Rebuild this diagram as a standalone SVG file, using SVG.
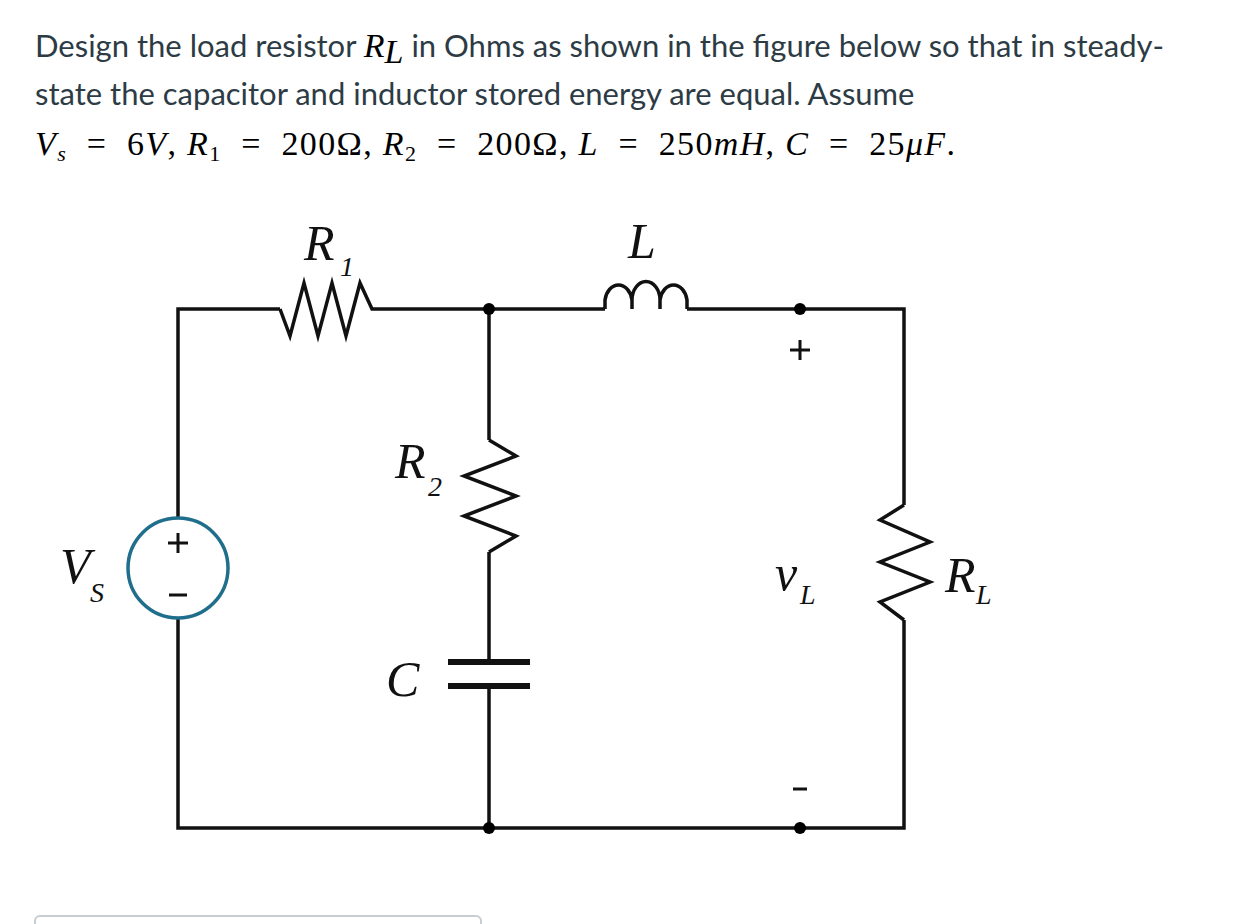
<svg xmlns="http://www.w3.org/2000/svg" width="1258" height="924" viewBox="0 0 1258 924">
<style>
.t{font-family:Lato,"Liberation Sans",sans-serif;font-size:31px;fill:#2d3b45}
.m{font-family:"Liberation Serif",serif;font-size:34px;fill:#000}
.lb{font-family:"Liberation Serif",serif;font-style:italic;font-size:50px;fill:#111}
.sb{font-family:"Liberation Serif",serif;font-style:italic;font-size:28px;fill:#111}
.w{fill:none;stroke:#111;stroke-width:3.5;stroke-linejoin:miter}
.dot{fill:#000}
</style>
<rect width="1258" height="924" fill="#fff"/>
<g id="question">
<text class="t" x="35" y="57">Design the load resistor <tspan class="m" font-style="italic">R</tspan><tspan class="m" font-style="italic" font-size="22" dy="6">L</tspan><tspan dy="-6"> in Ohms as shown in the figure below so that in steady-</tspan></text>
<text class="t" x="35" y="105">state the capacitor and inductor stored energy are equal. Assume</text>
<text class="m" x="35" y="155" textLength="920" lengthAdjust="spacing" xml:space="preserve"><tspan font-style="italic">V</tspan><tspan font-style="italic" font-size="22" dy="6">s</tspan><tspan dy="-6">  =  6</tspan><tspan font-style="italic">V</tspan>, <tspan font-style="italic">R</tspan><tspan font-size="22" dy="6">1</tspan><tspan dy="-6">  =  200Ω, </tspan><tspan font-style="italic">R</tspan><tspan font-size="22" dy="6">2</tspan><tspan dy="-6">  =  200Ω, </tspan><tspan font-style="italic">L</tspan>  =  250<tspan font-style="italic">mH</tspan>, <tspan font-style="italic">C</tspan>  =  25<tspan font-style="italic">μF</tspan>.</text>
</g>
<g id="connectors">
<path class="w" d="M178 518 V309 H280 M385 309 H605 M687 309 H904 V505 M904 620 V828 H178 V618"/>
<path class="w" d="M489 309 V440 M489 552 V662 M489 686 V828"/>
</g>
<g id="R1"><path class="w" d="M280 309 L290 336 L304 283 L318 336 L332 283 L346 336 L360 283 L372 309 L385 309"/>
<text class="lb" x="304" y="260">R</text><text class="sb" x="340" y="276">1</text></g>
<g id="L"><path class="w" d="M605 309 V300 A13.7 18 0 0 1 632 300 V309 M632 300 A13.7 18 0 0 1 660 300 V309 M660 300 A13.7 18 0 0 1 687 300 V309"/>
<text class="lb" x="628" y="258">L</text></g>
<g id="R2"><path class="w" d="M489 440 L516 456 L464 476 L516 496 L464 516 L516 536 L489 552"/>
<text class="lb" x="395" y="478">R</text><text class="sb" x="428" y="496">2</text></g>
<g id="C"><path d="M448 662 H530 M448 686 H530" stroke="#111" stroke-width="6"/>
<text class="lb" x="386" y="696">C</text></g>
<g id="Vs"><ellipse cx="178" cy="568" rx="50" ry="50" fill="none" stroke="#1f6e8c" stroke-width="3.5"/>
<path d="M168 543 H188 M178 533 V553 M169 595 H187" stroke="#111" stroke-width="3"/>
<text class="lb" x="60" y="583">V</text><text class="sb" x="90" y="602">S</text></g>
<g id="RL"><path class="w" d="M904 505 L880 520 L930 542 L880 562 L930 582 L880 602 L904 620"/>
<text class="lb" x="945" y="592">R</text><text class="sb" x="976" y="604">L</text></g>
<g id="vL"><text class="lb" x="775" y="590">v</text><text class="sb" x="800" y="604">L</text>
<path d="M790 350 H810 M800 340 V360 M793 789 H807" stroke="#111" stroke-width="3"/></g>
<g id="nodes">
<circle class="dot" cx="489" cy="309" r="6"/><circle class="dot" cx="800" cy="309" r="6"/>
<circle class="dot" cx="489" cy="828" r="6"/><circle class="dot" cx="800" cy="828" r="6"/>
</g>
<rect x="35" y="916" width="446" height="30" rx="5" fill="none" stroke="#c7cdd1" stroke-width="2"/>
</svg>
